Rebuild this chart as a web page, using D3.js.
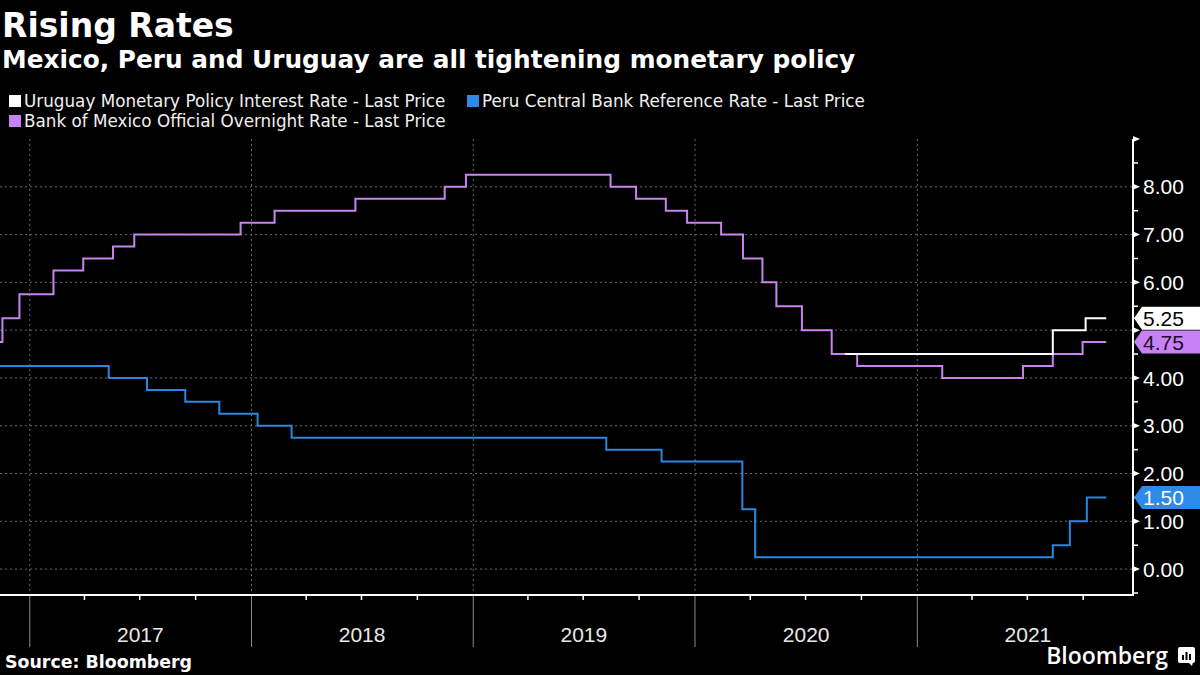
<!DOCTYPE html>
<html>
<head>
<meta charset="utf-8">
<script src="https://cdn.jsdelivr.net/npm/d3@7"></script>
<style>
  body { margin: 0; background: #000; }
  svg { display: block; }
  .title { font-family: "DejaVu Sans", sans-serif; font-weight: bold; fill: #fff; }
  .legend-text { font-family: "DejaVu Sans", sans-serif; font-size: 16.8px; fill: #f0f0f0; }
  .axis-text { font-family: "Liberation Sans", Arial, sans-serif; fill: #fff; }
  .grid { stroke: #6a6a6a; stroke-width: 1; stroke-dasharray: 2,3; }
</style>
</head>
<body>
<div id="chart"></div>
<script>
// policy rates, step changes (date the new rate took effect, rate %)
const uruguayRate = [
    ["2020-09-04", 4.50],
    ["2021-08-12", 5.00],
    ["2021-10-05", 5.25],
    ["2021-11-08", 5.25],
];

const peruRate = [
    ["2016-11-13", 4.25],
    ["2017-05-11", 4.00],
    ["2017-07-13", 3.75],
    ["2017-09-14", 3.50],
    ["2017-11-09", 3.25],
    ["2018-01-11", 3.00],
    ["2018-03-08", 2.75],
    ["2019-08-08", 2.50],
    ["2019-11-07", 2.25],
    ["2020-03-19", 1.25],
    ["2020-04-09", 0.25],
    ["2021-08-12", 0.50],
    ["2021-09-09", 1.00],
    ["2021-10-07", 1.50],
    ["2021-11-08", 1.50],
];

const mexicoRate = [
    ["2016-11-13", 4.75],
    ["2016-11-17", 5.25],
    ["2016-12-15", 5.75],
    ["2017-02-09", 6.25],
    ["2017-03-30", 6.50],
    ["2017-05-18", 6.75],
    ["2017-06-22", 7.00],
    ["2017-12-14", 7.25],
    ["2018-02-08", 7.50],
    ["2018-06-21", 7.75],
    ["2018-11-15", 8.00],
    ["2018-12-20", 8.25],
    ["2019-08-15", 8.00],
    ["2019-09-26", 7.75],
    ["2019-11-14", 7.50],
    ["2019-12-19", 7.25],
    ["2020-02-13", 7.00],
    ["2020-03-20", 6.50],
    ["2020-04-21", 6.00],
    ["2020-05-14", 5.50],
    ["2020-06-25", 5.00],
    ["2020-08-13", 4.50],
    ["2020-09-24", 4.25],
    ["2021-02-11", 4.00],
    ["2021-06-24", 4.25],
    ["2021-08-12", 4.50],
    ["2021-09-30", 4.75],
    ["2021-11-08", 4.75],
];

const seriesNames = [
    "Uruguay Monetary Policy Interest Rate - Last Price",
    "Peru Central Bank Reference Rate - Last Price",
    "Bank of Mexico Official Overnight Rate - Last Price",
];

const yearLabels = ["2017", "2018", "2019", "2020", "2021"];
const yTickValues = [0, 1, 2, 3, 4, 5, 6, 7, 8];

const config = {
    width: 1200,
    height: 675,
    plotRight: 1133,
    plotTop: 139,
    plotBottom: 595,
    startDate: "2016-11-13",
    endDate: "2021-12-22",
};

const parse = d3.timeParse("%Y-%m-%d");

const series = [
    { name: seriesNames[0], data: uruguayRate, color: "#ffffff", tagFill: "#ffffff", tagText: "#000000" },
    { name: seriesNames[1], data: peruRate, color: "#2a86df", tagFill: "#2d8ae6", tagText: "#ffffff" },
    { name: seriesNames[2], data: mexicoRate, color: "#c783ee", tagFill: "#c681f5", tagText: "#1e0a2a" },
];

const svg = d3.select("#chart")
    .append("svg")
    .attr("width", config.width)
    .attr("height", config.height)
    .style("background", "#000");

const x = d3.scaleTime()
    .domain([parse(config.startDate), parse(config.endDate)])
    .range([0, config.plotRight]);

const y = d3.scaleLinear()
    .domain([-0.5, 9])
    .range([593, 139]);

// titles
svg.append("text").attr("class", "title")
    .attr("x", 2).attr("y", 37)
    .style("font-size", "33px")
    .text("Rising Rates");

svg.append("text").attr("class", "title")
    .attr("x", 2).attr("y", 68)
    .style("font-size", "24.8px")
    .text("Mexico, Peru and Uruguay are all tightening monetary policy");

// legend
const legendPos = [[9, 101], [467, 101], [9, 121]];
series.forEach((s, i) => {
    let [lx, ly] = legendPos[i];
    svg.append("rect")
        .attr("x", lx).attr("y", ly - 6)
        .attr("width", 12).attr("height", 12)
        .attr("fill", s.tagFill);
    svg.append("text")
        .attr("class", "legend-text")
        .attr("x", lx + 15).attr("y", ly)
        .attr("dy", "0.36em")
        .text(s.name);
});

// gridlines
let years = d3.timeYear.range(parse("2017-01-01"), parse("2022-01-01"));

svg.append("g").selectAll("line")
    .data(yTickValues)
    .enter()
    .append("line")
    .attr("class", "grid")
    .attr("x1", 0).attr("x2", config.plotRight)
    .attr("y1", d => y(d)).attr("y2", d => y(d));

svg.append("g").selectAll("line")
    .data(years)
    .enter()
    .append("line")
    .attr("class", "grid")
    .attr("x1", d => x(d)).attr("x2", d => x(d))
    .attr("y1", config.plotTop).attr("y2", config.plotBottom);

// x axis: year separators, quarter ticks, labels
svg.append("g").selectAll("line")
    .data(years)
    .enter()
    .append("line")
    .attr("x1", d => x(d)).attr("x2", d => x(d))
    .attr("y1", config.plotBottom).attr("y2", 647)
    .attr("stroke", "#8a8a8a").attr("stroke-width", 1);

let quarters = d3.timeMonth.every(3).range(parse(config.startDate), parse(config.endDate))
    .filter(d => d.getMonth() !== 0);

svg.append("g").selectAll("line")
    .data(quarters)
    .enter()
    .append("line")
    .attr("x1", d => x(d)).attr("x2", d => x(d))
    .attr("y1", config.plotBottom).attr("y2", config.plotBottom + 5)
    .attr("stroke", "#fff").attr("stroke-width", 1.5);

svg.append("g").selectAll("text")
    .data(yearLabels)
    .enter()
    .append("text")
    .attr("class", "axis-text")
    .attr("x", d => x(parse(d + "-07-02")))
    .attr("y", 642)
    .attr("text-anchor", "middle")
    .style("font-size", "21px")
    .style("fill", "#e8e8e8")
    .text(d => d);

svg.append("line")
    .attr("x1", 0).attr("x2", config.plotRight)
    .attr("y1", config.plotBottom).attr("y2", config.plotBottom)
    .attr("stroke", "#fff").attr("stroke-width", 2);

// right y axis
svg.append("line")
    .attr("x1", config.plotRight).attr("x2", config.plotRight)
    .attr("y1", config.plotTop).attr("y2", config.plotBottom + 1)
    .attr("stroke", "#fff").attr("stroke-width", 2);

let halfTicks = d3.range(-0.5, 9.01, 0.5).filter(v => !Number.isInteger(v));
svg.append("g").selectAll("line")
    .data(halfTicks)
    .enter()
    .append("line")
    .attr("x1", config.plotRight).attr("x2", config.plotRight + 5)
    .attr("y1", d => y(d)).attr("y2", d => y(d))
    .attr("stroke", "#fff").attr("stroke-width", 1.5);

svg.append("g").selectAll("path")
    .data(yTickValues.concat([9]))
    .enter()
    .append("path")
    .attr("d", d => `M${config.plotRight},${y(d) - 3}L${config.plotRight + 7},${y(d)}L${config.plotRight},${y(d) + 3}Z`)
    .attr("fill", "#fff");

// hide tick labels that sit under an end-of-line tag
let lastValues = series.map(s => s.data[s.data.length - 1][1]);
let labelValues = yTickValues.filter(v => lastValues.every(lv => Math.abs(y(v) - y(lv)) > 13));

svg.append("g").selectAll("text")
    .data(labelValues)
    .enter()
    .append("text")
    .attr("class", "axis-text")
    .attr("x", config.plotRight + 10)
    .attr("y", d => y(d))
    .attr("dy", "0.36em")
    .style("font-size", "21px")
    .text(d => d3.format(".2f")(d));

// lines
let line = d3.line()
    .x(d => x(parse(d[0])))
    .y(d => y(d[1]))
    .curve(d3.curveStepAfter);

[series[1], series[2], series[0]].forEach(s => {
    svg.append("path")
        .attr("d", line(s.data))
        .attr("fill", "none")
        .attr("stroke", s.color)
        .attr("stroke-width", 2);
});

// end-of-line value tags
series.forEach(s => {
    let v = s.data[s.data.length - 1][1];
    let cy = y(v);
    let h = 11.5;
    let left = config.plotRight + 1;
    svg.append("path")
        .attr("d", `M${left},${cy}L${left + 8},${cy - h}L${config.width},${cy - h}L${config.width},${cy + h}L${left + 8},${cy + h}Z`)
        .attr("fill", s.tagFill);
    svg.append("text")
        .attr("class", "axis-text")
        .attr("x", config.plotRight + 10)
        .attr("y", cy)
        .attr("dy", "0.36em")
        .style("font-size", "21px")
        .style("fill", s.tagText)
        .text(d3.format(".2f")(v));
});

// footer
svg.append("text").attr("class", "title")
    .attr("x", 5).attr("y", 668)
    .style("font-size", "17.4px")
    .text("Source: Bloomberg");

svg.append("text")
    .attr("x", 1168).attr("y", 664)
    .attr("text-anchor", "end")
    .style("font-family", "'Open Sans', sans-serif")
    .style("font-weight", "600")
    .style("font-size", "23px")
    .style("fill", "#fff")
    .text("Bloomberg");

let logo = svg.append("g").attr("transform", "translate(1178,647)");
logo.append("rect")
    .attr("width", 17).attr("height", 16).attr("rx", 2)
    .attr("fill", "#fff");
logo.append("path")
    .attr("d", "M10,15L15,15L14,19Z")
    .attr("fill", "#fff");
[[4, 8, 2, 5], [7.5, 5, 2, 8], [11, 7, 2, 6]].forEach(b => {
    logo.append("rect")
        .attr("x", b[0]).attr("y", b[1])
        .attr("width", b[2]).attr("height", b[3])
        .attr("fill", "#000");
});
</script>
</body>
</html>
